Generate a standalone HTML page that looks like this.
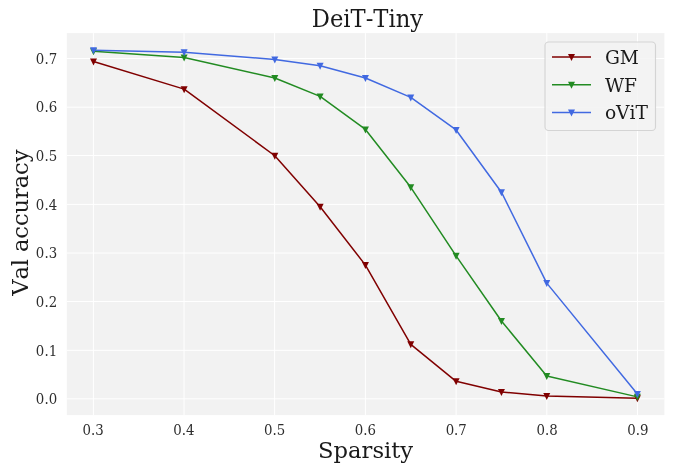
<!DOCTYPE html>
<html><head><meta charset="utf-8"><title>DeiT-Tiny</title>
<style>html,body{margin:0;padding:0;background:#fff}body{width:675px;height:473px;overflow:hidden}</style></head>
<body>
<svg width="675" height="473" viewBox="0 0 675 473" style="display:block;font-kerning:none">
<rect width="675" height="473" fill="#fff"/>
<rect x="66.8" y="33.1" width="597.60" height="382.00" fill="#f2f2f2"/>
<g stroke="#fff" stroke-width="1.0" fill="none">
<line x1="93.40" y1="33.1" x2="93.40" y2="415.1"/>
<line x1="184.00" y1="33.1" x2="184.00" y2="415.1"/>
<line x1="274.60" y1="33.1" x2="274.60" y2="415.1"/>
<line x1="365.40" y1="33.1" x2="365.40" y2="415.1"/>
<line x1="456.10" y1="33.1" x2="456.10" y2="415.1"/>
<line x1="546.80" y1="33.1" x2="546.80" y2="415.1"/>
<line x1="637.50" y1="33.1" x2="637.50" y2="415.1"/>
<line x1="66.8" y1="398.85" x2="664.4" y2="398.85"/>
<line x1="66.8" y1="350.30" x2="664.4" y2="350.30"/>
<line x1="66.8" y1="301.50" x2="664.4" y2="301.50"/>
<line x1="66.8" y1="253.00" x2="664.4" y2="253.00"/>
<line x1="66.8" y1="204.40" x2="664.4" y2="204.40"/>
<line x1="66.8" y1="155.50" x2="664.4" y2="155.50"/>
<line x1="66.8" y1="107.20" x2="664.4" y2="107.20"/>
<line x1="66.8" y1="58.50" x2="664.4" y2="58.50"/>
</g>
<polyline points="93.50,61.42 184.15,89.13 274.80,155.73 320.13,206.77 365.45,265.11 410.78,344.35 456.10,381.30 501.43,391.99 546.75,395.88 637.40,398.31" fill="none" stroke="#800000" stroke-width="1.5" stroke-linejoin="round" stroke-linecap="butt"/>
<path d="M93.50 65.42L90.00 58.42L97.00 58.42Z" fill="#800000"/>
<path d="M184.15 93.13L180.65 86.13L187.65 86.13Z" fill="#800000"/>
<path d="M274.80 159.73L271.30 152.73L278.30 152.73Z" fill="#800000"/>
<path d="M320.13 210.77L316.63 203.77L323.63 203.77Z" fill="#800000"/>
<path d="M365.45 269.11L361.95 262.11L368.95 262.11Z" fill="#800000"/>
<path d="M410.78 348.35L407.28 341.35L414.28 341.35Z" fill="#800000"/>
<path d="M456.10 385.30L452.60 378.30L459.60 378.30Z" fill="#800000"/>
<path d="M501.43 395.99L497.93 388.99L504.93 388.99Z" fill="#800000"/>
<path d="M546.75 399.88L543.25 392.88L550.25 392.88Z" fill="#800000"/>
<path d="M637.40 402.31L633.90 395.31L640.90 395.31Z" fill="#800000"/>
<polyline points="93.50,51.21 184.15,57.53 274.80,77.95 320.13,96.42 365.45,129.48 410.78,187.33 456.10,255.87 501.43,321.02 546.75,375.95 637.40,396.86" fill="none" stroke="#228b22" stroke-width="1.5" stroke-linejoin="round" stroke-linecap="butt"/>
<path d="M93.50 55.21L90.00 48.21L97.00 48.21Z" fill="#228b22"/>
<path d="M184.15 61.53L180.65 54.53L187.65 54.53Z" fill="#228b22"/>
<path d="M274.80 81.95L271.30 74.95L278.30 74.95Z" fill="#228b22"/>
<path d="M320.13 100.42L316.63 93.42L323.63 93.42Z" fill="#228b22"/>
<path d="M365.45 133.48L361.95 126.48L368.95 126.48Z" fill="#228b22"/>
<path d="M410.78 191.33L407.28 184.33L414.28 184.33Z" fill="#228b22"/>
<path d="M456.10 259.87L452.60 252.87L459.60 252.87Z" fill="#228b22"/>
<path d="M501.43 325.02L497.93 318.02L504.93 318.02Z" fill="#228b22"/>
<path d="M546.75 379.95L543.25 372.95L550.25 372.95Z" fill="#228b22"/>
<path d="M637.40 400.86L633.90 393.86L640.90 393.86Z" fill="#228b22"/>
<polyline points="93.50,50.24 184.15,52.18 274.80,59.47 320.13,65.79 365.45,77.95 410.78,97.39 456.10,129.96 501.43,192.19 546.75,283.10 637.40,393.94" fill="none" stroke="#4169e1" stroke-width="1.5" stroke-linejoin="round" stroke-linecap="butt"/>
<path d="M93.50 54.24L90.00 47.24L97.00 47.24Z" fill="#4169e1"/>
<path d="M184.15 56.18L180.65 49.18L187.65 49.18Z" fill="#4169e1"/>
<path d="M274.80 63.47L271.30 56.47L278.30 56.47Z" fill="#4169e1"/>
<path d="M320.13 69.79L316.63 62.79L323.63 62.79Z" fill="#4169e1"/>
<path d="M365.45 81.95L361.95 74.95L368.95 74.95Z" fill="#4169e1"/>
<path d="M410.78 101.39L407.28 94.39L414.28 94.39Z" fill="#4169e1"/>
<path d="M456.10 133.96L452.60 126.96L459.60 126.96Z" fill="#4169e1"/>
<path d="M501.43 196.19L497.93 189.19L504.93 189.19Z" fill="#4169e1"/>
<path d="M546.75 287.10L543.25 280.10L550.25 280.10Z" fill="#4169e1"/>
<path d="M637.40 397.94L633.90 390.94L640.90 390.94Z" fill="#4169e1"/>
<g font-family='"DejaVu Serif","Liberation Serif",serif' fill="#2e2e2e" font-size="13.33px">
<text transform="translate(93.10 434.9) scale(1 1.07)" text-anchor="middle">0.3</text>
<text transform="translate(183.88 434.9) scale(1 1.07)" text-anchor="middle">0.4</text>
<text transform="translate(274.67 434.9) scale(1 1.07)" text-anchor="middle">0.5</text>
<text transform="translate(365.45 434.9) scale(1 1.07)" text-anchor="middle">0.6</text>
<text transform="translate(456.23 434.9) scale(1 1.07)" text-anchor="middle">0.7</text>
<text transform="translate(547.02 434.9) scale(1 1.07)" text-anchor="middle">0.8</text>
<text transform="translate(637.80 434.9) scale(1 1.07)" text-anchor="middle">0.9</text>
<text transform="translate(57.6 404.15) scale(1 1.07)" text-anchor="end" letter-spacing="0.25">0.0</text>
<text transform="translate(57.6 355.54) scale(1 1.07)" text-anchor="end" letter-spacing="0.25">0.1</text>
<text transform="translate(57.6 306.92) scale(1 1.07)" text-anchor="end" letter-spacing="0.25">0.2</text>
<text transform="translate(57.6 258.31) scale(1 1.07)" text-anchor="end" letter-spacing="0.25">0.3</text>
<text transform="translate(57.6 209.69) scale(1 1.07)" text-anchor="end" letter-spacing="0.25">0.4</text>
<text transform="translate(57.6 161.08) scale(1 1.07)" text-anchor="end" letter-spacing="0.25">0.5</text>
<text transform="translate(57.6 112.46) scale(1 1.07)" text-anchor="end" letter-spacing="0.25">0.6</text>
<text transform="translate(57.6 63.85) scale(1 1.07)" text-anchor="end" letter-spacing="0.25">0.7</text>
</g>
<g font-family='"DejaVu Serif","Liberation Serif",serif' fill="#1a1a1a">
<text transform="translate(367.40 27.2) scale(1 1.03)" text-anchor="middle" font-size="22.67px">DeiT-Tiny</text>
<text x="365.60" y="457.7" text-anchor="middle" font-size="22.67px">Sparsity</text>
<text transform="translate(27.8 222.70) rotate(-90)" text-anchor="middle" font-size="22.67px" textLength="146.3" lengthAdjust="spacing">Val accuracy</text>
</g>
<rect x="545" y="42.0" width="110.5" height="88.5" rx="3.6" ry="3.6" fill="#f2f2f2" fill-opacity="0.8" stroke="#cccccc" stroke-opacity="0.8" stroke-width="1.1"/>
<line x1="552" y1="57.05" x2="591" y2="57.05" stroke="#800000" stroke-width="1.5"/>
<path d="M571.50 61.05L568.00 54.05L575.00 54.05Z" fill="#800000"/>
<text x="604.9" y="63.90" font-family='"DejaVu Serif","Liberation Serif",serif' fill="#1a1a1a" font-size="18.67px">GM</text>
<line x1="552" y1="84.75" x2="591" y2="84.75" stroke="#228b22" stroke-width="1.5"/>
<path d="M571.50 88.75L568.00 81.75L575.00 81.75Z" fill="#228b22"/>
<text x="604.9" y="91.70" font-family='"DejaVu Serif","Liberation Serif",serif' fill="#1a1a1a" font-size="18.67px">WF</text>
<line x1="552" y1="112.4" x2="591" y2="112.4" stroke="#4169e1" stroke-width="1.5"/>
<path d="M571.50 116.40L568.00 109.40L575.00 109.40Z" fill="#4169e1"/>
<text x="604.9" y="118.70" font-family='"DejaVu Serif","Liberation Serif",serif' fill="#1a1a1a" font-size="18.67px">oViT</text>
</svg>
</body></html>
